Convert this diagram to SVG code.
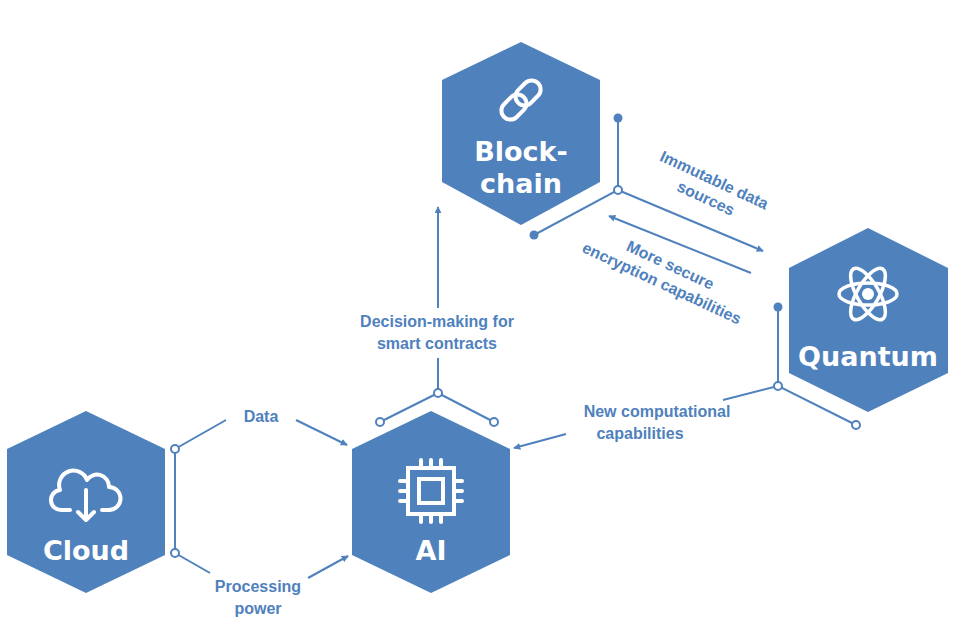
<svg xmlns="http://www.w3.org/2000/svg" width="960" height="644" viewBox="0 0 960 644">
<style>
.hex{fill:#4f81bd}
.nt{font-family:"DejaVu Sans",Verdana,sans-serif;font-weight:bold;font-size:27px;fill:#fff;text-anchor:middle}
.lb{font-family:"Liberation Sans",Arial,sans-serif;font-weight:bold;font-size:16px;fill:#4f81bd;text-anchor:middle}
.ln{stroke:#4f81bd;stroke-width:2;fill:none}
.oc{fill:#fff;stroke:#4f81bd;stroke-width:2}
.fc{fill:#4f81bd}
.ic{stroke:#fff;stroke-width:4;fill:none;stroke-linecap:round;stroke-linejoin:round}
</style>
<defs>
<marker id="ar" viewBox="0 0 10 10" refX="9" refY="5" markerWidth="7" markerHeight="7" markerUnits="userSpaceOnUse" orient="auto"><path d="M0,0L10,5L0,10z" fill="#4f81bd"/></marker>
</defs>
<rect width="960" height="644" fill="#fff"/>
<g id="cloud">
<polygon class="hex" points="86,411 165,449 165,555 86,593 7,555 7,449"/>
<path class="ic" d="M70,510 H62 a10,10 0 0 1 -2,-20 a14,14 0 0 1 27,-10 a12,12 0 0 1 22,7 a9,9 0 0 1 0,23 H102"/>
<path class="ic" d="M86,490 V520 M78,512 L86,520 L94,512"/>
<text class="nt" x="86" y="560">Cloud</text>
</g>
<g id="ai">
<polygon class="hex" points="431,411 510,449 510,555 431,593 352,555 352,449"/>
<rect x="408" y="468" width="46" height="46" fill="none" stroke="#fff" stroke-width="4"/>
<rect x="419" y="479" width="24" height="24" fill="none" stroke="#fff" stroke-width="4"/>
<path class="ic" d="M421,468 v-8 M431,468 v-8 M441,468 v-8 M421,514 v8 M431,514 v8 M441,514 v8 M408,481 h-8 M408,491 h-8 M408,501 h-8 M454,481 h8 M454,491 h8 M454,501 h8"/>
<text class="nt" x="431" y="560">AI</text>
</g>
<g id="blockchain">
<polygon class="hex" points="521,42 600,80 600,182 521,225 442,182 442,80"/>
<g transform="rotate(-45 521 100)">
<rect x="497" y="91" width="28" height="18" rx="9" class="ic"/>
<rect x="517" y="91" width="28" height="18" rx="9" class="ic"/>
</g>
<text class="nt" x="521" y="161">Block-</text>
<text class="nt" x="521" y="193">chain</text>
</g>
<g id="quantum">
<polygon class="hex" points="868,228 948,268 948,373 868,412 789,373 789,268"/>
<g fill="none" stroke="#fff" stroke-width="3.5">
<ellipse cx="868" cy="294" rx="29" ry="11"/>
<ellipse cx="868" cy="294" rx="29" ry="11" transform="rotate(60 868 294)"/>
<ellipse cx="868" cy="294" rx="29" ry="11" transform="rotate(-60 868 294)"/>
</g>
<circle cx="868" cy="294" r="6" fill="#fff"/>
<text class="nt" x="868" y="366">Quantum</text>
</g>
<g id="connectors">
<path class="ln" d="M175,449 V553 M175,449 L226,420 M175,553 L210,573"/>
<path class="ln" d="M296,420 L347,445" marker-end="url(#ar)"/>
<path class="ln" d="M308,578 L348,556" marker-end="url(#ar)"/>
<circle class="oc" cx="175" cy="449" r="4"/>
<circle class="oc" cx="175" cy="553" r="4"/>
<text class="lb" x="261" y="422">Data</text>
<text class="lb" x="258" y="592">Processing</text>
<text class="lb" x="258" y="614">power</text>

<path class="ln" d="M438,393 V358 M438,393 L380,422 M438,393 L494,422"/>
<path class="ln" d="M438,308 V207" marker-end="url(#ar)"/>
<circle class="oc" cx="438" cy="393" r="4"/>
<circle class="oc" cx="380" cy="422" r="4"/>
<circle class="oc" cx="494" cy="422" r="4"/>
<text class="lb" x="437" y="327">Decision-making for</text>
<text class="lb" x="437" y="349">smart contracts</text>

<path class="ln" d="M618,118 V190 L534,235 M618,190 L763,251" marker-end="url(#ar)"/>
<path class="ln" d="M751,273 L609,216" marker-end="url(#ar)"/>
<circle class="fc" cx="618" cy="118" r="4.5"/>
<circle class="fc" cx="534" cy="235" r="4.5"/>
<circle class="oc" cx="618" cy="190" r="4"/>
<text class="lb" transform="translate(712,185) rotate(25)"><tspan x="0" y="0">Immutable data</tspan><tspan x="0" y="20">sources</tspan></text>
<text class="lb" transform="translate(668,270) rotate(25)"><tspan x="0" y="0">More secure</tspan><tspan x="0" y="20">encryption capabilities</tspan></text>

<path class="ln" d="M778,307 V386 L856,425 M778,386 L723,400"/>
<path class="ln" d="M566,434 L514,448" marker-end="url(#ar)"/>
<circle class="fc" cx="778" cy="307" r="4.5"/>
<circle class="oc" cx="778" cy="386" r="4"/>
<circle class="oc" cx="856" cy="425" r="4"/>
<text class="lb" x="657" y="417">New computational</text>
<text class="lb" x="640" y="439">capabilities</text>
</g>
</svg>
